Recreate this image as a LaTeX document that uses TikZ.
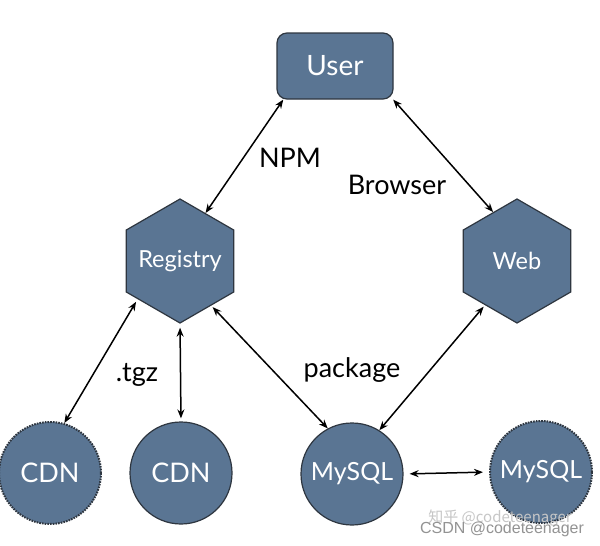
\documentclass[tikz,border=0pt]{standalone}
\usepackage{fontspec}
\setmainfont{Lato}
\newfontfamily\cjkfont{Noto Sans CJK SC}
\newfontfamily\wmfont{Liberation Sans}
\usetikzlibrary{arrows.meta,shapes.geometric}
\definecolor{nodeblue}{HTML}{5A7593}
\definecolor{edgegray}{HTML}{2E3640}
\begin{document}
\begin{tikzpicture}[x=1pt,y=-1pt,
 base/.style={fill=nodeblue,draw=edgegray,line width=1.2pt,text=white,inner sep=0pt},
 userbox/.style={base,rounded corners=10pt,minimum width=116pt,minimum height=66pt,font=\fontsize{28}{30}\selectfont},
 hexnode/.style={base,regular polygon,regular polygon sides=6,shape border rotate=30,minimum size=124pt},
 hextext/.style={text=white,inner sep=0pt,font=\fontsize{23.5}{25}\selectfont},
 circnode/.style={base,circle,minimum size=102pt,font=\fontsize{27}{29}\selectfont},
 ghost/.style={circnode,dash pattern=on 1.6pt off 1.1pt,line width=2pt},
 sqlfont/.style={font=\fontsize{25}{27}\selectfont},
 link/.style={{Stealth[length=9pt,width=7pt]}-{Stealth[length=9pt,width=7pt]},line width=1.5pt,black},
 lbl/.style={font=\fontsize{27}{29}\selectfont,text=black,inner sep=0pt}]
\fill[white] (0,0) rectangle (600,546);
\useasboundingbox (0,0) rectangle (600,546);
\node[userbox] (user) at (335,66) {User};
\node[hexnode] (reg) at (180,261) {};
\node[hextext] (regt) at (reg.center) {Registry};
\node[hexnode] (web) at (517,261) {};
\node[hextext] (webt) at (web.center) {Web};
\node[ghost] (cdna) at (50,473) {CDN};
\node[circnode] (cdnb) at (181,473) {CDN};
\node[circnode,sqlfont] (mya) at (352,474) {MySQL};
\node[ghost,sqlfont] (myb) at (541,472) {MySQL};
\draw[link] (user.213) -- (reg.62);
\draw[link] (user.-30) -- (web.116);
\draw[link,shorten <=3pt] (reg.222) -- (cdna.74);
\draw[link,shorten <=4pt,shorten >=3pt] (reg.south) -- (cdnb.north);
\draw[link,shorten <=2pt] (reg.-55) -- (mya.118);
\draw[link,shorten <=2pt] (web.234) -- (mya.58);
\draw[link,shorten <=6pt,shorten >=6pt] (mya.east) -- (myb.west);
\node[lbl] (npm) at (290,158) {NPM};
\node[lbl] (browser) at (397,185) {Browser};
\node[lbl] (tgz) at (137,375) {.tgz};
\node[lbl] (pkg) at (352,370) {package};
\node[font=\cjkfont\fontsize{15}{15}\selectfont,text=gray!45] (wma) at (500,518) {知乎 @codeteenager};
\node[font=\wmfont\fontsize{16}{16}\selectfont,text=gray!85] (wmb) at (502,529) {CSDN @codeteenager};
\end{tikzpicture}
\end{document}
